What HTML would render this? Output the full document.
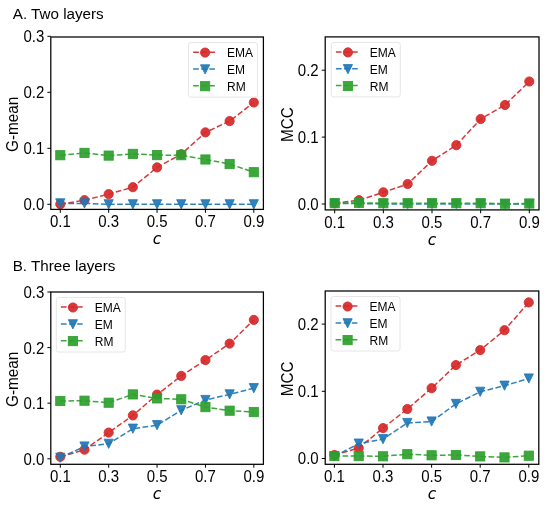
<!DOCTYPE html>
<html><head><meta charset="utf-8"><title>Figure</title>
<style>
html,body{margin:0;padding:0;background:#fff;}
body{width:550px;height:507px;overflow:hidden;}
svg{display:block;}
text{font-family:"Liberation Sans",Arial,sans-serif;fill:#000;}
.tk{font-size:15.0px;}
.lg{font-size:12.0px;}
.ti{font-size:15.2px;}
.yl{font-size:15.3px;}
.xl{font-family:"DejaVu Sans",sans-serif;font-style:italic;font-size:15.6px;}
</style></head>
<body>
<svg width="550" height="507" viewBox="0 0 550 507">
<rect width="550" height="507" fill="#fff"/>
<text x="12.8" y="18.6" class="ti">A. Two layers</text>
<text x="12.7" y="271.0" class="ti">B. Three layers</text>
<clipPath id="cAleft"><rect x="50.80" y="37.00" width="212.60" height="172.40"/></clipPath>
<g clip-path="url(#cAleft)">
<polyline points="60.30,204.20 84.49,200.20 108.68,194.10 132.87,187.20 157.06,167.40 181.25,154.20 205.44,132.40 229.63,121.10 253.82,102.50" fill="none" stroke="rgb(214,39,40)" stroke-opacity="0.92" stroke-width="1.50" stroke-dasharray="5.67 2.45"/>
<circle cx="60.30" cy="204.20" r="4.60" fill="rgb(214,39,40)" fill-opacity="0.92" stroke="rgb(214,39,40)" stroke-opacity="0.92" stroke-width="0.90"/>
<circle cx="84.49" cy="200.20" r="4.60" fill="rgb(214,39,40)" fill-opacity="0.92" stroke="rgb(214,39,40)" stroke-opacity="0.92" stroke-width="0.90"/>
<circle cx="108.68" cy="194.10" r="4.60" fill="rgb(214,39,40)" fill-opacity="0.92" stroke="rgb(214,39,40)" stroke-opacity="0.92" stroke-width="0.90"/>
<circle cx="132.87" cy="187.20" r="4.60" fill="rgb(214,39,40)" fill-opacity="0.92" stroke="rgb(214,39,40)" stroke-opacity="0.92" stroke-width="0.90"/>
<circle cx="157.06" cy="167.40" r="4.60" fill="rgb(214,39,40)" fill-opacity="0.92" stroke="rgb(214,39,40)" stroke-opacity="0.92" stroke-width="0.90"/>
<circle cx="181.25" cy="154.20" r="4.60" fill="rgb(214,39,40)" fill-opacity="0.92" stroke="rgb(214,39,40)" stroke-opacity="0.92" stroke-width="0.90"/>
<circle cx="205.44" cy="132.40" r="4.60" fill="rgb(214,39,40)" fill-opacity="0.92" stroke="rgb(214,39,40)" stroke-opacity="0.92" stroke-width="0.90"/>
<circle cx="229.63" cy="121.10" r="4.60" fill="rgb(214,39,40)" fill-opacity="0.92" stroke="rgb(214,39,40)" stroke-opacity="0.92" stroke-width="0.90"/>
<circle cx="253.82" cy="102.50" r="4.60" fill="rgb(214,39,40)" fill-opacity="0.92" stroke="rgb(214,39,40)" stroke-opacity="0.92" stroke-width="0.90"/>
<polyline points="60.30,203.40 84.49,203.40 108.68,204.30 132.87,204.30 157.06,204.30 181.25,204.30 205.44,204.30 229.63,204.30 253.82,204.30" fill="none" stroke="rgb(31,119,180)" stroke-opacity="0.92" stroke-width="1.50" stroke-dasharray="5.67 2.45"/>
<polygon points="55.70,198.80 64.90,198.80 60.30,208.00" fill="rgb(31,119,180)" fill-opacity="0.92" stroke="rgb(31,119,180)" stroke-opacity="0.92" stroke-width="0.90" stroke-linejoin="miter"/>
<polygon points="79.89,198.80 89.09,198.80 84.49,208.00" fill="rgb(31,119,180)" fill-opacity="0.92" stroke="rgb(31,119,180)" stroke-opacity="0.92" stroke-width="0.90" stroke-linejoin="miter"/>
<polygon points="104.08,199.70 113.28,199.70 108.68,208.90" fill="rgb(31,119,180)" fill-opacity="0.92" stroke="rgb(31,119,180)" stroke-opacity="0.92" stroke-width="0.90" stroke-linejoin="miter"/>
<polygon points="128.27,199.70 137.47,199.70 132.87,208.90" fill="rgb(31,119,180)" fill-opacity="0.92" stroke="rgb(31,119,180)" stroke-opacity="0.92" stroke-width="0.90" stroke-linejoin="miter"/>
<polygon points="152.46,199.70 161.66,199.70 157.06,208.90" fill="rgb(31,119,180)" fill-opacity="0.92" stroke="rgb(31,119,180)" stroke-opacity="0.92" stroke-width="0.90" stroke-linejoin="miter"/>
<polygon points="176.65,199.70 185.85,199.70 181.25,208.90" fill="rgb(31,119,180)" fill-opacity="0.92" stroke="rgb(31,119,180)" stroke-opacity="0.92" stroke-width="0.90" stroke-linejoin="miter"/>
<polygon points="200.84,199.70 210.04,199.70 205.44,208.90" fill="rgb(31,119,180)" fill-opacity="0.92" stroke="rgb(31,119,180)" stroke-opacity="0.92" stroke-width="0.90" stroke-linejoin="miter"/>
<polygon points="225.03,199.70 234.23,199.70 229.63,208.90" fill="rgb(31,119,180)" fill-opacity="0.92" stroke="rgb(31,119,180)" stroke-opacity="0.92" stroke-width="0.90" stroke-linejoin="miter"/>
<polygon points="249.22,199.70 258.42,199.70 253.82,208.90" fill="rgb(31,119,180)" fill-opacity="0.92" stroke="rgb(31,119,180)" stroke-opacity="0.92" stroke-width="0.90" stroke-linejoin="miter"/>
<polyline points="60.30,155.20 84.49,152.90 108.68,155.60 132.87,153.90 157.06,155.10 181.25,155.20 205.44,159.50 229.63,164.00 253.82,172.20" fill="none" stroke="rgb(44,160,44)" stroke-opacity="0.92" stroke-width="1.50" stroke-dasharray="5.67 2.45"/>
<rect x="55.70" y="150.60" width="9.20" height="9.20" fill="rgb(44,160,44)" fill-opacity="0.92" stroke="rgb(44,160,44)" stroke-opacity="0.92" stroke-width="0.90"/>
<rect x="79.89" y="148.30" width="9.20" height="9.20" fill="rgb(44,160,44)" fill-opacity="0.92" stroke="rgb(44,160,44)" stroke-opacity="0.92" stroke-width="0.90"/>
<rect x="104.08" y="151.00" width="9.20" height="9.20" fill="rgb(44,160,44)" fill-opacity="0.92" stroke="rgb(44,160,44)" stroke-opacity="0.92" stroke-width="0.90"/>
<rect x="128.27" y="149.30" width="9.20" height="9.20" fill="rgb(44,160,44)" fill-opacity="0.92" stroke="rgb(44,160,44)" stroke-opacity="0.92" stroke-width="0.90"/>
<rect x="152.46" y="150.50" width="9.20" height="9.20" fill="rgb(44,160,44)" fill-opacity="0.92" stroke="rgb(44,160,44)" stroke-opacity="0.92" stroke-width="0.90"/>
<rect x="176.65" y="150.60" width="9.20" height="9.20" fill="rgb(44,160,44)" fill-opacity="0.92" stroke="rgb(44,160,44)" stroke-opacity="0.92" stroke-width="0.90"/>
<rect x="200.84" y="154.90" width="9.20" height="9.20" fill="rgb(44,160,44)" fill-opacity="0.92" stroke="rgb(44,160,44)" stroke-opacity="0.92" stroke-width="0.90"/>
<rect x="225.03" y="159.40" width="9.20" height="9.20" fill="rgb(44,160,44)" fill-opacity="0.92" stroke="rgb(44,160,44)" stroke-opacity="0.92" stroke-width="0.90"/>
<rect x="249.22" y="167.60" width="9.20" height="9.20" fill="rgb(44,160,44)" fill-opacity="0.92" stroke="rgb(44,160,44)" stroke-opacity="0.92" stroke-width="0.90"/>
</g>
<rect x="50.80" y="37.00" width="212.60" height="172.40" fill="none" stroke="#000" stroke-width="1.25" stroke-linejoin="miter"/>
<line x1="60.30" y1="209.40" x2="60.30" y2="212.80" stroke="#000" stroke-width="1.00"/>
<text transform="translate(60.30,221.45) scale(1,1.080)" y="5.20" class="tk" text-anchor="middle">0.1</text>
<line x1="108.68" y1="209.40" x2="108.68" y2="212.80" stroke="#000" stroke-width="1.00"/>
<text transform="translate(108.68,221.45) scale(1,1.080)" y="5.20" class="tk" text-anchor="middle">0.3</text>
<line x1="157.06" y1="209.40" x2="157.06" y2="212.80" stroke="#000" stroke-width="1.00"/>
<text transform="translate(157.06,221.45) scale(1,1.080)" y="5.20" class="tk" text-anchor="middle">0.5</text>
<line x1="205.44" y1="209.40" x2="205.44" y2="212.80" stroke="#000" stroke-width="1.00"/>
<text transform="translate(205.44,221.45) scale(1,1.080)" y="5.20" class="tk" text-anchor="middle">0.7</text>
<line x1="253.82" y1="209.40" x2="253.82" y2="212.80" stroke="#000" stroke-width="1.00"/>
<text transform="translate(253.82,221.45) scale(1,1.080)" y="5.20" class="tk" text-anchor="middle">0.9</text>
<line x1="47.40" y1="204.30" x2="50.80" y2="204.30" stroke="#000" stroke-width="1.00"/>
<text transform="translate(44.30,204.60) scale(1,1.080)" y="5.20" class="tk" text-anchor="end">0.0</text>
<line x1="47.40" y1="148.30" x2="50.80" y2="148.30" stroke="#000" stroke-width="1.00"/>
<text transform="translate(44.30,148.60) scale(1,1.080)" y="5.20" class="tk" text-anchor="end">0.1</text>
<line x1="47.40" y1="92.30" x2="50.80" y2="92.30" stroke="#000" stroke-width="1.00"/>
<text transform="translate(44.30,92.60) scale(1,1.080)" y="5.20" class="tk" text-anchor="end">0.2</text>
<line x1="47.40" y1="36.30" x2="50.80" y2="36.30" stroke="#000" stroke-width="1.00"/>
<text transform="translate(44.30,36.60) scale(1,1.080)" y="5.20" class="tk" text-anchor="end">0.3</text>
<text transform="translate(18.10,124.40) rotate(-90) translate(0,-5.4) scale(1,1.040) translate(0,5.4)" class="yl" text-anchor="middle">G-mean</text>
<text x="157.10" y="243.90" class="xl" text-anchor="middle">c</text>
<rect x="188.50" y="42.60" width="69.00" height="54.50" rx="2.5" ry="2.5" fill="#fff" fill-opacity="0.8" stroke="#e6e6e6" stroke-opacity="1" stroke-width="1"/>
<line x1="193.10" y1="52.20" x2="214.90" y2="52.20" stroke="rgb(214,39,40)" stroke-opacity="0.92" stroke-width="1.50" stroke-dasharray="5.67 2.45"/>
<circle cx="205.10" cy="52.60" r="4.60" fill="rgb(214,39,40)" fill-opacity="0.92" stroke="rgb(214,39,40)" stroke-opacity="0.92" stroke-width="0.90"/>
<text x="227.00" y="57.10" class="lg">EMA</text>
<line x1="193.10" y1="69.00" x2="214.90" y2="69.00" stroke="rgb(31,119,180)" stroke-opacity="0.92" stroke-width="1.50" stroke-dasharray="5.67 2.45"/>
<polygon points="200.50,64.80 209.70,64.80 205.10,74.00" fill="rgb(31,119,180)" fill-opacity="0.92" stroke="rgb(31,119,180)" stroke-opacity="0.92" stroke-width="0.90" stroke-linejoin="miter"/>
<text x="227.00" y="73.90" class="lg">EM</text>
<line x1="193.10" y1="85.80" x2="214.90" y2="85.80" stroke="rgb(44,160,44)" stroke-opacity="0.92" stroke-width="1.50" stroke-dasharray="5.67 2.45"/>
<rect x="200.50" y="81.60" width="9.20" height="9.20" fill="rgb(44,160,44)" fill-opacity="0.92" stroke="rgb(44,160,44)" stroke-opacity="0.92" stroke-width="0.90"/>
<text x="227.00" y="90.70" class="lg">RM</text>
<clipPath id="cAright"><rect x="325.20" y="36.90" width="213.80" height="173.00"/></clipPath>
<g clip-path="url(#cAright)">
<polyline points="334.70,203.30 359.02,200.20 383.35,192.30 407.67,184.00 432.00,160.80 456.32,145.20 480.65,119.00 504.98,105.00 529.30,81.50" fill="none" stroke="rgb(214,39,40)" stroke-opacity="0.92" stroke-width="1.50" stroke-dasharray="5.67 2.45"/>
<circle cx="334.70" cy="203.30" r="4.60" fill="rgb(214,39,40)" fill-opacity="0.92" stroke="rgb(214,39,40)" stroke-opacity="0.92" stroke-width="0.90"/>
<circle cx="359.02" cy="200.20" r="4.60" fill="rgb(214,39,40)" fill-opacity="0.92" stroke="rgb(214,39,40)" stroke-opacity="0.92" stroke-width="0.90"/>
<circle cx="383.35" cy="192.30" r="4.60" fill="rgb(214,39,40)" fill-opacity="0.92" stroke="rgb(214,39,40)" stroke-opacity="0.92" stroke-width="0.90"/>
<circle cx="407.67" cy="184.00" r="4.60" fill="rgb(214,39,40)" fill-opacity="0.92" stroke="rgb(214,39,40)" stroke-opacity="0.92" stroke-width="0.90"/>
<circle cx="432.00" cy="160.80" r="4.60" fill="rgb(214,39,40)" fill-opacity="0.92" stroke="rgb(214,39,40)" stroke-opacity="0.92" stroke-width="0.90"/>
<circle cx="456.32" cy="145.20" r="4.60" fill="rgb(214,39,40)" fill-opacity="0.92" stroke="rgb(214,39,40)" stroke-opacity="0.92" stroke-width="0.90"/>
<circle cx="480.65" cy="119.00" r="4.60" fill="rgb(214,39,40)" fill-opacity="0.92" stroke="rgb(214,39,40)" stroke-opacity="0.92" stroke-width="0.90"/>
<circle cx="504.98" cy="105.00" r="4.60" fill="rgb(214,39,40)" fill-opacity="0.92" stroke="rgb(214,39,40)" stroke-opacity="0.92" stroke-width="0.90"/>
<circle cx="529.30" cy="81.50" r="4.60" fill="rgb(214,39,40)" fill-opacity="0.92" stroke="rgb(214,39,40)" stroke-opacity="0.92" stroke-width="0.90"/>
<polyline points="334.70,203.50 359.02,203.50 383.35,204.00 407.67,204.00 432.00,204.00 456.32,204.00 480.65,204.00 504.98,204.00 529.30,204.00" fill="none" stroke="rgb(31,119,180)" stroke-opacity="0.92" stroke-width="1.50" stroke-dasharray="5.67 2.45"/>
<polygon points="330.10,198.90 339.30,198.90 334.70,208.10" fill="rgb(31,119,180)" fill-opacity="0.92" stroke="rgb(31,119,180)" stroke-opacity="0.92" stroke-width="0.90" stroke-linejoin="miter"/>
<polygon points="354.42,198.90 363.62,198.90 359.02,208.10" fill="rgb(31,119,180)" fill-opacity="0.92" stroke="rgb(31,119,180)" stroke-opacity="0.92" stroke-width="0.90" stroke-linejoin="miter"/>
<polygon points="378.75,199.40 387.95,199.40 383.35,208.60" fill="rgb(31,119,180)" fill-opacity="0.92" stroke="rgb(31,119,180)" stroke-opacity="0.92" stroke-width="0.90" stroke-linejoin="miter"/>
<polygon points="403.07,199.40 412.27,199.40 407.67,208.60" fill="rgb(31,119,180)" fill-opacity="0.92" stroke="rgb(31,119,180)" stroke-opacity="0.92" stroke-width="0.90" stroke-linejoin="miter"/>
<polygon points="427.40,199.40 436.60,199.40 432.00,208.60" fill="rgb(31,119,180)" fill-opacity="0.92" stroke="rgb(31,119,180)" stroke-opacity="0.92" stroke-width="0.90" stroke-linejoin="miter"/>
<polygon points="451.72,199.40 460.93,199.40 456.32,208.60" fill="rgb(31,119,180)" fill-opacity="0.92" stroke="rgb(31,119,180)" stroke-opacity="0.92" stroke-width="0.90" stroke-linejoin="miter"/>
<polygon points="476.05,199.40 485.25,199.40 480.65,208.60" fill="rgb(31,119,180)" fill-opacity="0.92" stroke="rgb(31,119,180)" stroke-opacity="0.92" stroke-width="0.90" stroke-linejoin="miter"/>
<polygon points="500.38,199.40 509.58,199.40 504.98,208.60" fill="rgb(31,119,180)" fill-opacity="0.92" stroke="rgb(31,119,180)" stroke-opacity="0.92" stroke-width="0.90" stroke-linejoin="miter"/>
<polygon points="524.70,199.40 533.90,199.40 529.30,208.60" fill="rgb(31,119,180)" fill-opacity="0.92" stroke="rgb(31,119,180)" stroke-opacity="0.92" stroke-width="0.90" stroke-linejoin="miter"/>
<polyline points="334.70,203.20 359.02,202.80 383.35,203.20 407.67,203.20 432.00,203.20 456.32,203.20 480.65,203.20 504.98,203.70 529.30,203.50" fill="none" stroke="rgb(44,160,44)" stroke-opacity="0.92" stroke-width="1.50" stroke-dasharray="5.67 2.45"/>
<rect x="330.10" y="198.60" width="9.20" height="9.20" fill="rgb(44,160,44)" fill-opacity="0.92" stroke="rgb(44,160,44)" stroke-opacity="0.92" stroke-width="0.90"/>
<rect x="354.42" y="198.20" width="9.20" height="9.20" fill="rgb(44,160,44)" fill-opacity="0.92" stroke="rgb(44,160,44)" stroke-opacity="0.92" stroke-width="0.90"/>
<rect x="378.75" y="198.60" width="9.20" height="9.20" fill="rgb(44,160,44)" fill-opacity="0.92" stroke="rgb(44,160,44)" stroke-opacity="0.92" stroke-width="0.90"/>
<rect x="403.07" y="198.60" width="9.20" height="9.20" fill="rgb(44,160,44)" fill-opacity="0.92" stroke="rgb(44,160,44)" stroke-opacity="0.92" stroke-width="0.90"/>
<rect x="427.40" y="198.60" width="9.20" height="9.20" fill="rgb(44,160,44)" fill-opacity="0.92" stroke="rgb(44,160,44)" stroke-opacity="0.92" stroke-width="0.90"/>
<rect x="451.72" y="198.60" width="9.20" height="9.20" fill="rgb(44,160,44)" fill-opacity="0.92" stroke="rgb(44,160,44)" stroke-opacity="0.92" stroke-width="0.90"/>
<rect x="476.05" y="198.60" width="9.20" height="9.20" fill="rgb(44,160,44)" fill-opacity="0.92" stroke="rgb(44,160,44)" stroke-opacity="0.92" stroke-width="0.90"/>
<rect x="500.38" y="199.10" width="9.20" height="9.20" fill="rgb(44,160,44)" fill-opacity="0.92" stroke="rgb(44,160,44)" stroke-opacity="0.92" stroke-width="0.90"/>
<rect x="524.70" y="198.90" width="9.20" height="9.20" fill="rgb(44,160,44)" fill-opacity="0.92" stroke="rgb(44,160,44)" stroke-opacity="0.92" stroke-width="0.90"/>
</g>
<rect x="325.20" y="36.90" width="213.80" height="173.00" fill="none" stroke="#000" stroke-width="1.25" stroke-linejoin="miter"/>
<line x1="334.70" y1="209.90" x2="334.70" y2="213.30" stroke="#000" stroke-width="1.00"/>
<text transform="translate(334.70,221.95) scale(1,1.080)" y="5.20" class="tk" text-anchor="middle">0.1</text>
<line x1="383.35" y1="209.90" x2="383.35" y2="213.30" stroke="#000" stroke-width="1.00"/>
<text transform="translate(383.35,221.95) scale(1,1.080)" y="5.20" class="tk" text-anchor="middle">0.3</text>
<line x1="432.00" y1="209.90" x2="432.00" y2="213.30" stroke="#000" stroke-width="1.00"/>
<text transform="translate(432.00,221.95) scale(1,1.080)" y="5.20" class="tk" text-anchor="middle">0.5</text>
<line x1="480.65" y1="209.90" x2="480.65" y2="213.30" stroke="#000" stroke-width="1.00"/>
<text transform="translate(480.65,221.95) scale(1,1.080)" y="5.20" class="tk" text-anchor="middle">0.7</text>
<line x1="529.30" y1="209.90" x2="529.30" y2="213.30" stroke="#000" stroke-width="1.00"/>
<text transform="translate(529.30,221.95) scale(1,1.080)" y="5.20" class="tk" text-anchor="middle">0.9</text>
<line x1="321.80" y1="204.00" x2="325.20" y2="204.00" stroke="#000" stroke-width="1.00"/>
<text transform="translate(318.70,204.30) scale(1,1.080)" y="5.20" class="tk" text-anchor="end">0.0</text>
<line x1="321.80" y1="137.10" x2="325.20" y2="137.10" stroke="#000" stroke-width="1.00"/>
<text transform="translate(318.70,137.40) scale(1,1.080)" y="5.20" class="tk" text-anchor="end">0.1</text>
<line x1="321.80" y1="70.20" x2="325.20" y2="70.20" stroke="#000" stroke-width="1.00"/>
<text transform="translate(318.70,70.50) scale(1,1.080)" y="5.20" class="tk" text-anchor="end">0.2</text>
<text transform="translate(292.50,124.60) rotate(-90) translate(0,-5.4) scale(1,1.040) translate(0,5.4)" class="yl" text-anchor="middle">MCC</text>
<text x="432.10" y="244.90" class="xl" text-anchor="middle">c</text>
<rect x="331.30" y="42.40" width="69.00" height="54.50" rx="2.5" ry="2.5" fill="#fff" fill-opacity="0.8" stroke="#e6e6e6" stroke-opacity="1" stroke-width="1"/>
<line x1="335.90" y1="52.00" x2="357.70" y2="52.00" stroke="rgb(214,39,40)" stroke-opacity="0.92" stroke-width="1.50" stroke-dasharray="5.67 2.45"/>
<circle cx="347.90" cy="52.40" r="4.60" fill="rgb(214,39,40)" fill-opacity="0.92" stroke="rgb(214,39,40)" stroke-opacity="0.92" stroke-width="0.90"/>
<text x="369.80" y="56.90" class="lg">EMA</text>
<line x1="335.90" y1="68.80" x2="357.70" y2="68.80" stroke="rgb(31,119,180)" stroke-opacity="0.92" stroke-width="1.50" stroke-dasharray="5.67 2.45"/>
<polygon points="343.30,64.60 352.50,64.60 347.90,73.80" fill="rgb(31,119,180)" fill-opacity="0.92" stroke="rgb(31,119,180)" stroke-opacity="0.92" stroke-width="0.90" stroke-linejoin="miter"/>
<text x="369.80" y="73.70" class="lg">EM</text>
<line x1="335.90" y1="85.60" x2="357.70" y2="85.60" stroke="rgb(44,160,44)" stroke-opacity="0.92" stroke-width="1.50" stroke-dasharray="5.67 2.45"/>
<rect x="343.30" y="81.40" width="9.20" height="9.20" fill="rgb(44,160,44)" fill-opacity="0.92" stroke="rgb(44,160,44)" stroke-opacity="0.92" stroke-width="0.90"/>
<text x="369.80" y="90.50" class="lg">RM</text>
<clipPath id="cBleft"><rect x="50.80" y="292.00" width="212.60" height="172.30"/></clipPath>
<g clip-path="url(#cBleft)">
<polyline points="60.30,456.80 84.49,449.70 108.68,432.60 132.87,415.40 157.06,394.60 181.25,375.90 205.44,360.10 229.63,343.60 253.82,319.90" fill="none" stroke="rgb(214,39,40)" stroke-opacity="0.92" stroke-width="1.50" stroke-dasharray="5.67 2.45"/>
<circle cx="60.30" cy="456.80" r="4.60" fill="rgb(214,39,40)" fill-opacity="0.92" stroke="rgb(214,39,40)" stroke-opacity="0.92" stroke-width="0.90"/>
<circle cx="84.49" cy="449.70" r="4.60" fill="rgb(214,39,40)" fill-opacity="0.92" stroke="rgb(214,39,40)" stroke-opacity="0.92" stroke-width="0.90"/>
<circle cx="108.68" cy="432.60" r="4.60" fill="rgb(214,39,40)" fill-opacity="0.92" stroke="rgb(214,39,40)" stroke-opacity="0.92" stroke-width="0.90"/>
<circle cx="132.87" cy="415.40" r="4.60" fill="rgb(214,39,40)" fill-opacity="0.92" stroke="rgb(214,39,40)" stroke-opacity="0.92" stroke-width="0.90"/>
<circle cx="157.06" cy="394.60" r="4.60" fill="rgb(214,39,40)" fill-opacity="0.92" stroke="rgb(214,39,40)" stroke-opacity="0.92" stroke-width="0.90"/>
<circle cx="181.25" cy="375.90" r="4.60" fill="rgb(214,39,40)" fill-opacity="0.92" stroke="rgb(214,39,40)" stroke-opacity="0.92" stroke-width="0.90"/>
<circle cx="205.44" cy="360.10" r="4.60" fill="rgb(214,39,40)" fill-opacity="0.92" stroke="rgb(214,39,40)" stroke-opacity="0.92" stroke-width="0.90"/>
<circle cx="229.63" cy="343.60" r="4.60" fill="rgb(214,39,40)" fill-opacity="0.92" stroke="rgb(214,39,40)" stroke-opacity="0.92" stroke-width="0.90"/>
<circle cx="253.82" cy="319.90" r="4.60" fill="rgb(214,39,40)" fill-opacity="0.92" stroke="rgb(214,39,40)" stroke-opacity="0.92" stroke-width="0.90"/>
<polyline points="60.30,457.70 84.49,446.50 108.68,443.80 132.87,428.70 157.06,425.20 181.25,410.30 205.44,400.00 229.63,394.40 253.82,388.20" fill="none" stroke="rgb(31,119,180)" stroke-opacity="0.92" stroke-width="1.50" stroke-dasharray="5.67 2.45"/>
<polygon points="55.70,453.10 64.90,453.10 60.30,462.30" fill="rgb(31,119,180)" fill-opacity="0.92" stroke="rgb(31,119,180)" stroke-opacity="0.92" stroke-width="0.90" stroke-linejoin="miter"/>
<polygon points="79.89,441.90 89.09,441.90 84.49,451.10" fill="rgb(31,119,180)" fill-opacity="0.92" stroke="rgb(31,119,180)" stroke-opacity="0.92" stroke-width="0.90" stroke-linejoin="miter"/>
<polygon points="104.08,439.20 113.28,439.20 108.68,448.40" fill="rgb(31,119,180)" fill-opacity="0.92" stroke="rgb(31,119,180)" stroke-opacity="0.92" stroke-width="0.90" stroke-linejoin="miter"/>
<polygon points="128.27,424.10 137.47,424.10 132.87,433.30" fill="rgb(31,119,180)" fill-opacity="0.92" stroke="rgb(31,119,180)" stroke-opacity="0.92" stroke-width="0.90" stroke-linejoin="miter"/>
<polygon points="152.46,420.60 161.66,420.60 157.06,429.80" fill="rgb(31,119,180)" fill-opacity="0.92" stroke="rgb(31,119,180)" stroke-opacity="0.92" stroke-width="0.90" stroke-linejoin="miter"/>
<polygon points="176.65,405.70 185.85,405.70 181.25,414.90" fill="rgb(31,119,180)" fill-opacity="0.92" stroke="rgb(31,119,180)" stroke-opacity="0.92" stroke-width="0.90" stroke-linejoin="miter"/>
<polygon points="200.84,395.40 210.04,395.40 205.44,404.60" fill="rgb(31,119,180)" fill-opacity="0.92" stroke="rgb(31,119,180)" stroke-opacity="0.92" stroke-width="0.90" stroke-linejoin="miter"/>
<polygon points="225.03,389.80 234.23,389.80 229.63,399.00" fill="rgb(31,119,180)" fill-opacity="0.92" stroke="rgb(31,119,180)" stroke-opacity="0.92" stroke-width="0.90" stroke-linejoin="miter"/>
<polygon points="249.22,383.60 258.42,383.60 253.82,392.80" fill="rgb(31,119,180)" fill-opacity="0.92" stroke="rgb(31,119,180)" stroke-opacity="0.92" stroke-width="0.90" stroke-linejoin="miter"/>
<polyline points="60.30,401.00 84.49,400.70 108.68,402.70 132.87,394.40 157.06,398.40 181.25,399.30 205.44,407.10 229.63,410.70 253.82,412.00" fill="none" stroke="rgb(44,160,44)" stroke-opacity="0.92" stroke-width="1.50" stroke-dasharray="5.67 2.45"/>
<rect x="55.70" y="396.40" width="9.20" height="9.20" fill="rgb(44,160,44)" fill-opacity="0.92" stroke="rgb(44,160,44)" stroke-opacity="0.92" stroke-width="0.90"/>
<rect x="79.89" y="396.10" width="9.20" height="9.20" fill="rgb(44,160,44)" fill-opacity="0.92" stroke="rgb(44,160,44)" stroke-opacity="0.92" stroke-width="0.90"/>
<rect x="104.08" y="398.10" width="9.20" height="9.20" fill="rgb(44,160,44)" fill-opacity="0.92" stroke="rgb(44,160,44)" stroke-opacity="0.92" stroke-width="0.90"/>
<rect x="128.27" y="389.80" width="9.20" height="9.20" fill="rgb(44,160,44)" fill-opacity="0.92" stroke="rgb(44,160,44)" stroke-opacity="0.92" stroke-width="0.90"/>
<rect x="152.46" y="393.80" width="9.20" height="9.20" fill="rgb(44,160,44)" fill-opacity="0.92" stroke="rgb(44,160,44)" stroke-opacity="0.92" stroke-width="0.90"/>
<rect x="176.65" y="394.70" width="9.20" height="9.20" fill="rgb(44,160,44)" fill-opacity="0.92" stroke="rgb(44,160,44)" stroke-opacity="0.92" stroke-width="0.90"/>
<rect x="200.84" y="402.50" width="9.20" height="9.20" fill="rgb(44,160,44)" fill-opacity="0.92" stroke="rgb(44,160,44)" stroke-opacity="0.92" stroke-width="0.90"/>
<rect x="225.03" y="406.10" width="9.20" height="9.20" fill="rgb(44,160,44)" fill-opacity="0.92" stroke="rgb(44,160,44)" stroke-opacity="0.92" stroke-width="0.90"/>
<rect x="249.22" y="407.40" width="9.20" height="9.20" fill="rgb(44,160,44)" fill-opacity="0.92" stroke="rgb(44,160,44)" stroke-opacity="0.92" stroke-width="0.90"/>
</g>
<rect x="50.80" y="292.00" width="212.60" height="172.30" fill="none" stroke="#000" stroke-width="1.25" stroke-linejoin="miter"/>
<line x1="60.30" y1="464.30" x2="60.30" y2="467.70" stroke="#000" stroke-width="1.00"/>
<text transform="translate(60.30,476.35) scale(1,1.080)" y="5.20" class="tk" text-anchor="middle">0.1</text>
<line x1="108.68" y1="464.30" x2="108.68" y2="467.70" stroke="#000" stroke-width="1.00"/>
<text transform="translate(108.68,476.35) scale(1,1.080)" y="5.20" class="tk" text-anchor="middle">0.3</text>
<line x1="157.06" y1="464.30" x2="157.06" y2="467.70" stroke="#000" stroke-width="1.00"/>
<text transform="translate(157.06,476.35) scale(1,1.080)" y="5.20" class="tk" text-anchor="middle">0.5</text>
<line x1="205.44" y1="464.30" x2="205.44" y2="467.70" stroke="#000" stroke-width="1.00"/>
<text transform="translate(205.44,476.35) scale(1,1.080)" y="5.20" class="tk" text-anchor="middle">0.7</text>
<line x1="253.82" y1="464.30" x2="253.82" y2="467.70" stroke="#000" stroke-width="1.00"/>
<text transform="translate(253.82,476.35) scale(1,1.080)" y="5.20" class="tk" text-anchor="middle">0.9</text>
<line x1="47.40" y1="458.80" x2="50.80" y2="458.80" stroke="#000" stroke-width="1.00"/>
<text transform="translate(44.30,459.10) scale(1,1.080)" y="5.20" class="tk" text-anchor="end">0.0</text>
<line x1="47.40" y1="403.20" x2="50.80" y2="403.20" stroke="#000" stroke-width="1.00"/>
<text transform="translate(44.30,403.50) scale(1,1.080)" y="5.20" class="tk" text-anchor="end">0.1</text>
<line x1="47.40" y1="347.60" x2="50.80" y2="347.60" stroke="#000" stroke-width="1.00"/>
<text transform="translate(44.30,347.90) scale(1,1.080)" y="5.20" class="tk" text-anchor="end">0.2</text>
<line x1="47.40" y1="292.00" x2="50.80" y2="292.00" stroke="#000" stroke-width="1.00"/>
<text transform="translate(44.30,292.30) scale(1,1.080)" y="5.20" class="tk" text-anchor="end">0.3</text>
<text transform="translate(18.10,379.35) rotate(-90) translate(0,-5.4) scale(1,1.040) translate(0,5.4)" class="yl" text-anchor="middle">G-mean</text>
<text x="157.10" y="498.80" class="xl" text-anchor="middle">c</text>
<rect x="56.30" y="297.50" width="69.00" height="54.50" rx="2.5" ry="2.5" fill="#fff" fill-opacity="0.8" stroke="#e6e6e6" stroke-opacity="1" stroke-width="1"/>
<line x1="60.90" y1="307.10" x2="82.70" y2="307.10" stroke="rgb(214,39,40)" stroke-opacity="0.92" stroke-width="1.50" stroke-dasharray="5.67 2.45"/>
<circle cx="72.90" cy="307.50" r="4.60" fill="rgb(214,39,40)" fill-opacity="0.92" stroke="rgb(214,39,40)" stroke-opacity="0.92" stroke-width="0.90"/>
<text x="94.80" y="312.00" class="lg">EMA</text>
<line x1="60.90" y1="323.90" x2="82.70" y2="323.90" stroke="rgb(31,119,180)" stroke-opacity="0.92" stroke-width="1.50" stroke-dasharray="5.67 2.45"/>
<polygon points="68.30,319.70 77.50,319.70 72.90,328.90" fill="rgb(31,119,180)" fill-opacity="0.92" stroke="rgb(31,119,180)" stroke-opacity="0.92" stroke-width="0.90" stroke-linejoin="miter"/>
<text x="94.80" y="328.80" class="lg">EM</text>
<line x1="60.90" y1="340.70" x2="82.70" y2="340.70" stroke="rgb(44,160,44)" stroke-opacity="0.92" stroke-width="1.50" stroke-dasharray="5.67 2.45"/>
<rect x="68.30" y="336.50" width="9.20" height="9.20" fill="rgb(44,160,44)" fill-opacity="0.92" stroke="rgb(44,160,44)" stroke-opacity="0.92" stroke-width="0.90"/>
<text x="94.80" y="345.60" class="lg">RM</text>
<clipPath id="cBright"><rect x="325.20" y="291.00" width="213.60" height="173.30"/></clipPath>
<g clip-path="url(#cBright)">
<polyline points="334.40,455.00 358.70,448.00 383.00,428.10 407.30,409.00 431.60,388.20 455.90,365.10 480.20,350.10 504.50,330.20 528.80,302.40" fill="none" stroke="rgb(214,39,40)" stroke-opacity="0.92" stroke-width="1.50" stroke-dasharray="5.67 2.45"/>
<circle cx="334.40" cy="455.00" r="4.60" fill="rgb(214,39,40)" fill-opacity="0.92" stroke="rgb(214,39,40)" stroke-opacity="0.92" stroke-width="0.90"/>
<circle cx="358.70" cy="448.00" r="4.60" fill="rgb(214,39,40)" fill-opacity="0.92" stroke="rgb(214,39,40)" stroke-opacity="0.92" stroke-width="0.90"/>
<circle cx="383.00" cy="428.10" r="4.60" fill="rgb(214,39,40)" fill-opacity="0.92" stroke="rgb(214,39,40)" stroke-opacity="0.92" stroke-width="0.90"/>
<circle cx="407.30" cy="409.00" r="4.60" fill="rgb(214,39,40)" fill-opacity="0.92" stroke="rgb(214,39,40)" stroke-opacity="0.92" stroke-width="0.90"/>
<circle cx="431.60" cy="388.20" r="4.60" fill="rgb(214,39,40)" fill-opacity="0.92" stroke="rgb(214,39,40)" stroke-opacity="0.92" stroke-width="0.90"/>
<circle cx="455.90" cy="365.10" r="4.60" fill="rgb(214,39,40)" fill-opacity="0.92" stroke="rgb(214,39,40)" stroke-opacity="0.92" stroke-width="0.90"/>
<circle cx="480.20" cy="350.10" r="4.60" fill="rgb(214,39,40)" fill-opacity="0.92" stroke="rgb(214,39,40)" stroke-opacity="0.92" stroke-width="0.90"/>
<circle cx="504.50" cy="330.20" r="4.60" fill="rgb(214,39,40)" fill-opacity="0.92" stroke="rgb(214,39,40)" stroke-opacity="0.92" stroke-width="0.90"/>
<circle cx="528.80" cy="302.40" r="4.60" fill="rgb(214,39,40)" fill-opacity="0.92" stroke="rgb(214,39,40)" stroke-opacity="0.92" stroke-width="0.90"/>
<polyline points="334.40,456.50 358.70,443.60 383.00,439.20 407.30,423.00 431.60,421.50 455.90,403.90 480.20,391.80 504.50,385.70 528.80,378.50" fill="none" stroke="rgb(31,119,180)" stroke-opacity="0.92" stroke-width="1.50" stroke-dasharray="5.67 2.45"/>
<polygon points="329.80,451.90 339.00,451.90 334.40,461.10" fill="rgb(31,119,180)" fill-opacity="0.92" stroke="rgb(31,119,180)" stroke-opacity="0.92" stroke-width="0.90" stroke-linejoin="miter"/>
<polygon points="354.10,439.00 363.30,439.00 358.70,448.20" fill="rgb(31,119,180)" fill-opacity="0.92" stroke="rgb(31,119,180)" stroke-opacity="0.92" stroke-width="0.90" stroke-linejoin="miter"/>
<polygon points="378.40,434.60 387.60,434.60 383.00,443.80" fill="rgb(31,119,180)" fill-opacity="0.92" stroke="rgb(31,119,180)" stroke-opacity="0.92" stroke-width="0.90" stroke-linejoin="miter"/>
<polygon points="402.70,418.40 411.90,418.40 407.30,427.60" fill="rgb(31,119,180)" fill-opacity="0.92" stroke="rgb(31,119,180)" stroke-opacity="0.92" stroke-width="0.90" stroke-linejoin="miter"/>
<polygon points="427.00,416.90 436.20,416.90 431.60,426.10" fill="rgb(31,119,180)" fill-opacity="0.92" stroke="rgb(31,119,180)" stroke-opacity="0.92" stroke-width="0.90" stroke-linejoin="miter"/>
<polygon points="451.30,399.30 460.50,399.30 455.90,408.50" fill="rgb(31,119,180)" fill-opacity="0.92" stroke="rgb(31,119,180)" stroke-opacity="0.92" stroke-width="0.90" stroke-linejoin="miter"/>
<polygon points="475.60,387.20 484.80,387.20 480.20,396.40" fill="rgb(31,119,180)" fill-opacity="0.92" stroke="rgb(31,119,180)" stroke-opacity="0.92" stroke-width="0.90" stroke-linejoin="miter"/>
<polygon points="499.90,381.10 509.10,381.10 504.50,390.30" fill="rgb(31,119,180)" fill-opacity="0.92" stroke="rgb(31,119,180)" stroke-opacity="0.92" stroke-width="0.90" stroke-linejoin="miter"/>
<polygon points="524.20,373.90 533.40,373.90 528.80,383.10" fill="rgb(31,119,180)" fill-opacity="0.92" stroke="rgb(31,119,180)" stroke-opacity="0.92" stroke-width="0.90" stroke-linejoin="miter"/>
<polyline points="334.40,456.00 358.70,456.00 383.00,456.30 407.30,454.20 431.60,455.30 455.90,455.00 480.20,456.40 504.50,457.40 528.80,455.70" fill="none" stroke="rgb(44,160,44)" stroke-opacity="0.92" stroke-width="1.50" stroke-dasharray="5.67 2.45"/>
<rect x="329.80" y="451.40" width="9.20" height="9.20" fill="rgb(44,160,44)" fill-opacity="0.92" stroke="rgb(44,160,44)" stroke-opacity="0.92" stroke-width="0.90"/>
<rect x="354.10" y="451.40" width="9.20" height="9.20" fill="rgb(44,160,44)" fill-opacity="0.92" stroke="rgb(44,160,44)" stroke-opacity="0.92" stroke-width="0.90"/>
<rect x="378.40" y="451.70" width="9.20" height="9.20" fill="rgb(44,160,44)" fill-opacity="0.92" stroke="rgb(44,160,44)" stroke-opacity="0.92" stroke-width="0.90"/>
<rect x="402.70" y="449.60" width="9.20" height="9.20" fill="rgb(44,160,44)" fill-opacity="0.92" stroke="rgb(44,160,44)" stroke-opacity="0.92" stroke-width="0.90"/>
<rect x="427.00" y="450.70" width="9.20" height="9.20" fill="rgb(44,160,44)" fill-opacity="0.92" stroke="rgb(44,160,44)" stroke-opacity="0.92" stroke-width="0.90"/>
<rect x="451.30" y="450.40" width="9.20" height="9.20" fill="rgb(44,160,44)" fill-opacity="0.92" stroke="rgb(44,160,44)" stroke-opacity="0.92" stroke-width="0.90"/>
<rect x="475.60" y="451.80" width="9.20" height="9.20" fill="rgb(44,160,44)" fill-opacity="0.92" stroke="rgb(44,160,44)" stroke-opacity="0.92" stroke-width="0.90"/>
<rect x="499.90" y="452.80" width="9.20" height="9.20" fill="rgb(44,160,44)" fill-opacity="0.92" stroke="rgb(44,160,44)" stroke-opacity="0.92" stroke-width="0.90"/>
<rect x="524.20" y="451.10" width="9.20" height="9.20" fill="rgb(44,160,44)" fill-opacity="0.92" stroke="rgb(44,160,44)" stroke-opacity="0.92" stroke-width="0.90"/>
</g>
<rect x="325.20" y="291.00" width="213.60" height="173.30" fill="none" stroke="#000" stroke-width="1.25" stroke-linejoin="miter"/>
<line x1="334.40" y1="464.30" x2="334.40" y2="467.70" stroke="#000" stroke-width="1.00"/>
<text transform="translate(334.40,476.35) scale(1,1.080)" y="5.20" class="tk" text-anchor="middle">0.1</text>
<line x1="383.00" y1="464.30" x2="383.00" y2="467.70" stroke="#000" stroke-width="1.00"/>
<text transform="translate(383.00,476.35) scale(1,1.080)" y="5.20" class="tk" text-anchor="middle">0.3</text>
<line x1="431.60" y1="464.30" x2="431.60" y2="467.70" stroke="#000" stroke-width="1.00"/>
<text transform="translate(431.60,476.35) scale(1,1.080)" y="5.20" class="tk" text-anchor="middle">0.5</text>
<line x1="480.20" y1="464.30" x2="480.20" y2="467.70" stroke="#000" stroke-width="1.00"/>
<text transform="translate(480.20,476.35) scale(1,1.080)" y="5.20" class="tk" text-anchor="middle">0.7</text>
<line x1="528.80" y1="464.30" x2="528.80" y2="467.70" stroke="#000" stroke-width="1.00"/>
<text transform="translate(528.80,476.35) scale(1,1.080)" y="5.20" class="tk" text-anchor="middle">0.9</text>
<line x1="321.80" y1="458.50" x2="325.20" y2="458.50" stroke="#000" stroke-width="1.00"/>
<text transform="translate(318.70,458.80) scale(1,1.080)" y="5.20" class="tk" text-anchor="end">0.0</text>
<line x1="321.80" y1="391.30" x2="325.20" y2="391.30" stroke="#000" stroke-width="1.00"/>
<text transform="translate(318.70,391.60) scale(1,1.080)" y="5.20" class="tk" text-anchor="end">0.1</text>
<line x1="321.80" y1="324.10" x2="325.20" y2="324.10" stroke="#000" stroke-width="1.00"/>
<text transform="translate(318.70,324.40) scale(1,1.080)" y="5.20" class="tk" text-anchor="end">0.2</text>
<text transform="translate(292.50,378.85) rotate(-90) translate(0,-5.4) scale(1,1.040) translate(0,5.4)" class="yl" text-anchor="middle">MCC</text>
<text x="432.00" y="499.30" class="xl" text-anchor="middle">c</text>
<rect x="331.00" y="296.50" width="69.00" height="54.50" rx="2.5" ry="2.5" fill="#fff" fill-opacity="0.8" stroke="#e6e6e6" stroke-opacity="1" stroke-width="1"/>
<line x1="335.60" y1="306.10" x2="357.40" y2="306.10" stroke="rgb(214,39,40)" stroke-opacity="0.92" stroke-width="1.50" stroke-dasharray="5.67 2.45"/>
<circle cx="347.60" cy="306.50" r="4.60" fill="rgb(214,39,40)" fill-opacity="0.92" stroke="rgb(214,39,40)" stroke-opacity="0.92" stroke-width="0.90"/>
<text x="369.50" y="311.00" class="lg">EMA</text>
<line x1="335.60" y1="322.90" x2="357.40" y2="322.90" stroke="rgb(31,119,180)" stroke-opacity="0.92" stroke-width="1.50" stroke-dasharray="5.67 2.45"/>
<polygon points="343.00,318.70 352.20,318.70 347.60,327.90" fill="rgb(31,119,180)" fill-opacity="0.92" stroke="rgb(31,119,180)" stroke-opacity="0.92" stroke-width="0.90" stroke-linejoin="miter"/>
<text x="369.50" y="327.80" class="lg">EM</text>
<line x1="335.60" y1="339.70" x2="357.40" y2="339.70" stroke="rgb(44,160,44)" stroke-opacity="0.92" stroke-width="1.50" stroke-dasharray="5.67 2.45"/>
<rect x="343.00" y="335.50" width="9.20" height="9.20" fill="rgb(44,160,44)" fill-opacity="0.92" stroke="rgb(44,160,44)" stroke-opacity="0.92" stroke-width="0.90"/>
<text x="369.50" y="344.60" class="lg">RM</text>
</svg>
</body></html>
